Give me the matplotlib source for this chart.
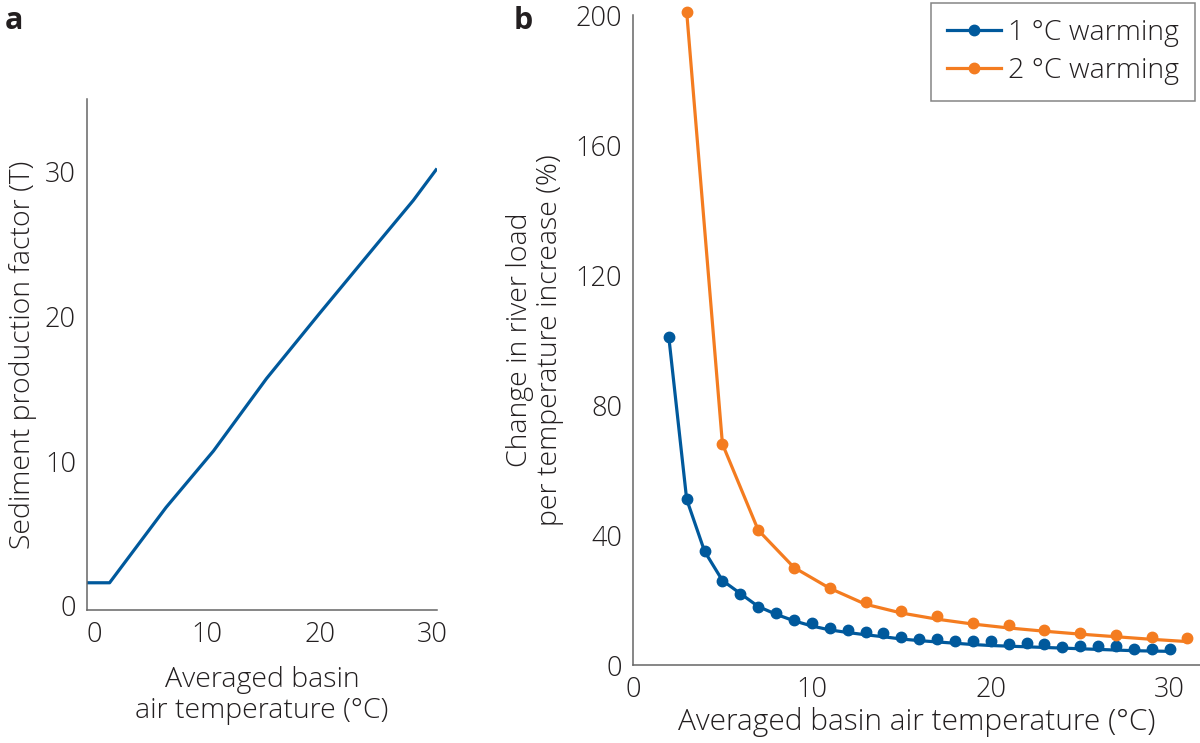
import matplotlib
matplotlib.use('Agg')
import matplotlib.pyplot as plt
from matplotlib.lines import Line2D

plt.rcParams['font.family'] = ['Open Sans', 'DejaVu Sans']

blue = '#00599c'
orange = '#f47c20'
text_col = '#231f20'
spine_col = '#666666'

# panel a: sediment production factor vs temperature
a_temp = [-0.6, 1.4, 6.4, 10.6, 15.3, 20.0, 25.1, 28.3, 30.4]
a_factor = [1.6, 1.6, 6.8, 10.7, 15.7, 20.2, 25.0, 28.0, 30.2]

# panel b: model dots
b1_temp = list(range(2, 31))
b1_vals = [101, 51, 35, 26, 22, 18, 16, 13.8, 13.0, 11.5, 10.8, 10.3, 9.7, 8.6,
           7.9, 8.1, 7.4, 7.4, 7.4, 6.4, 6.9, 6.5, 5.6, 5.8, 5.7, 5.7, 4.8, 4.8, 5.0]
b2_temp = [3, 5, 7, 9, 11, 13, 15, 17, 19, 21, 23, 25, 27, 29, 31]
b2_vals = [201, 68, 41.5, 30, 23.6, 19.5, 16.5, 15.2, 13.0, 12.2, 10.9, 10.0, 9.3, 8.6, 8.4]

# panel b: fitted curves
b1_line_temp = [2, 3, 4, 5, 6, 7, 8, 9, 10, 11, 12, 13, 14, 15, 16, 17, 18, 19, 20,
                21, 22, 23, 24, 25, 26, 27, 28, 29, 30]
b1_line_vals = [101, 51, 35, 26, 22, 18, 15.6, 13.6, 12.0, 10.8, 10.0, 9.3, 8.7, 8.0,
                7.5, 7.1, 6.7, 6.3, 6.0, 5.8, 5.6, 5.4, 5.2, 5.0, 4.8, 4.6, 4.4, 4.3, 4.2]
b2_line_temp = [3, 5, 7, 9, 11, 13, 15, 17, 19, 21, 23, 25, 27, 29, 31]
b2_line_vals = [201, 68, 41.5, 30, 23.6, 18.7, 16.0, 14.1, 12.6, 11.4, 10.4, 9.5,
                8.7, 7.9, 7.2]

fig = plt.figure(figsize=(12, 7.43), dpi=100)

fs = 20.5
tfs = 19.5

def style(ax):
    for s in ['top', 'right']:
        ax.spines[s].set_visible(False)
    for s in ['left', 'bottom']:
        ax.spines[s].set_color(spine_col)
        ax.spines[s].set_linewidth(1.1)
    ax.tick_params(length=0, labelsize=tfs, labelcolor=text_col, pad=8)
    for lab in ax.get_xticklabels() + ax.get_yticklabels():
        lab.set_fontweight('light')

# ---- panel a
ax1 = fig.add_axes([87/1200, 133/743, 350/1200, 511/743])
ax1.plot(a_temp, a_factor, color=blue, lw=2.3, solid_capstyle='butt')
ax1.set_xlim(-0.6, 30.4)
ax1.set_ylim(-0.28, 35)
ax1.set_xticks([0, 10, 20, 30])
ax1.set_yticks([0, 10, 20, 30])
style(ax1)
ax1.set_xlabel('Averaged basin\nair temperature (°C)', fontsize=fs, color=text_col,
               labelpad=12, linespacing=1.15, fontweight='light')
ax1.set_ylabel('Sediment production factor (T)', fontsize=fs, color=text_col,
               labelpad=6, fontweight='light')

# ---- panel b
ax2 = fig.add_axes([633/1200, 78/743, 567/1200, 650/743])
ax2.plot(b1_line_temp, b1_line_vals, color=blue, lw=2.3)
ax2.plot(b2_line_temp, b2_line_vals, color=orange, lw=2.3, clip_on=False)
ax2.plot(b1_temp, b1_vals, 'o', color=blue, ms=7.5, clip_on=False)
ax2.plot(b2_temp, b2_vals, 'o', color=orange, ms=7.5, clip_on=False)
ax2.set_xlim(0, 31.7)
ax2.set_ylim(0, 200)
ax2.set_xticks([0, 10, 20, 30])
ax2.set_yticks([0, 40, 80, 120, 160, 200])
style(ax2)
ax2.set_xlabel('Averaged basin air temperature (°C)', fontsize=21.5, color=text_col,
               labelpad=2, fontweight='light')
ax2.set_ylabel('Change in river load\nper temperature increase (%)', fontsize=fs,
               color=text_col, labelpad=8, linespacing=1.1, fontweight='light')

handles = [Line2D([], [], color=blue, lw=2.3, marker='o', ms=7.5),
           Line2D([], [], color=orange, lw=2.3, marker='o', ms=7.5)]
leg = fig.legend(handles, ['1 °C warming', '2 °C warming'], loc='upper right',
                 bbox_to_anchor=(1195/1200, 1 - 3/743), frameon=True,
                 prop={'size': fs, 'weight': 'light'},
                 fancybox=False, handlelength=1.9, handletextpad=0.25,
                 borderpad=0.55, labelspacing=0.36, borderaxespad=0)
leg.get_frame().set_edgecolor(spine_col)
leg.get_frame().set_linewidth(1.1)
for t in leg.get_texts():
    t.set_color(text_col)

fig.text(5/1200, 1 - 29/743, 'a', fontsize=22, fontweight='bold', color=text_col)
fig.text(514/1200, 1 - 29/743, 'b', fontsize=22, fontweight='bold', color=text_col)

fig.savefig('out.png', dpi=100)
